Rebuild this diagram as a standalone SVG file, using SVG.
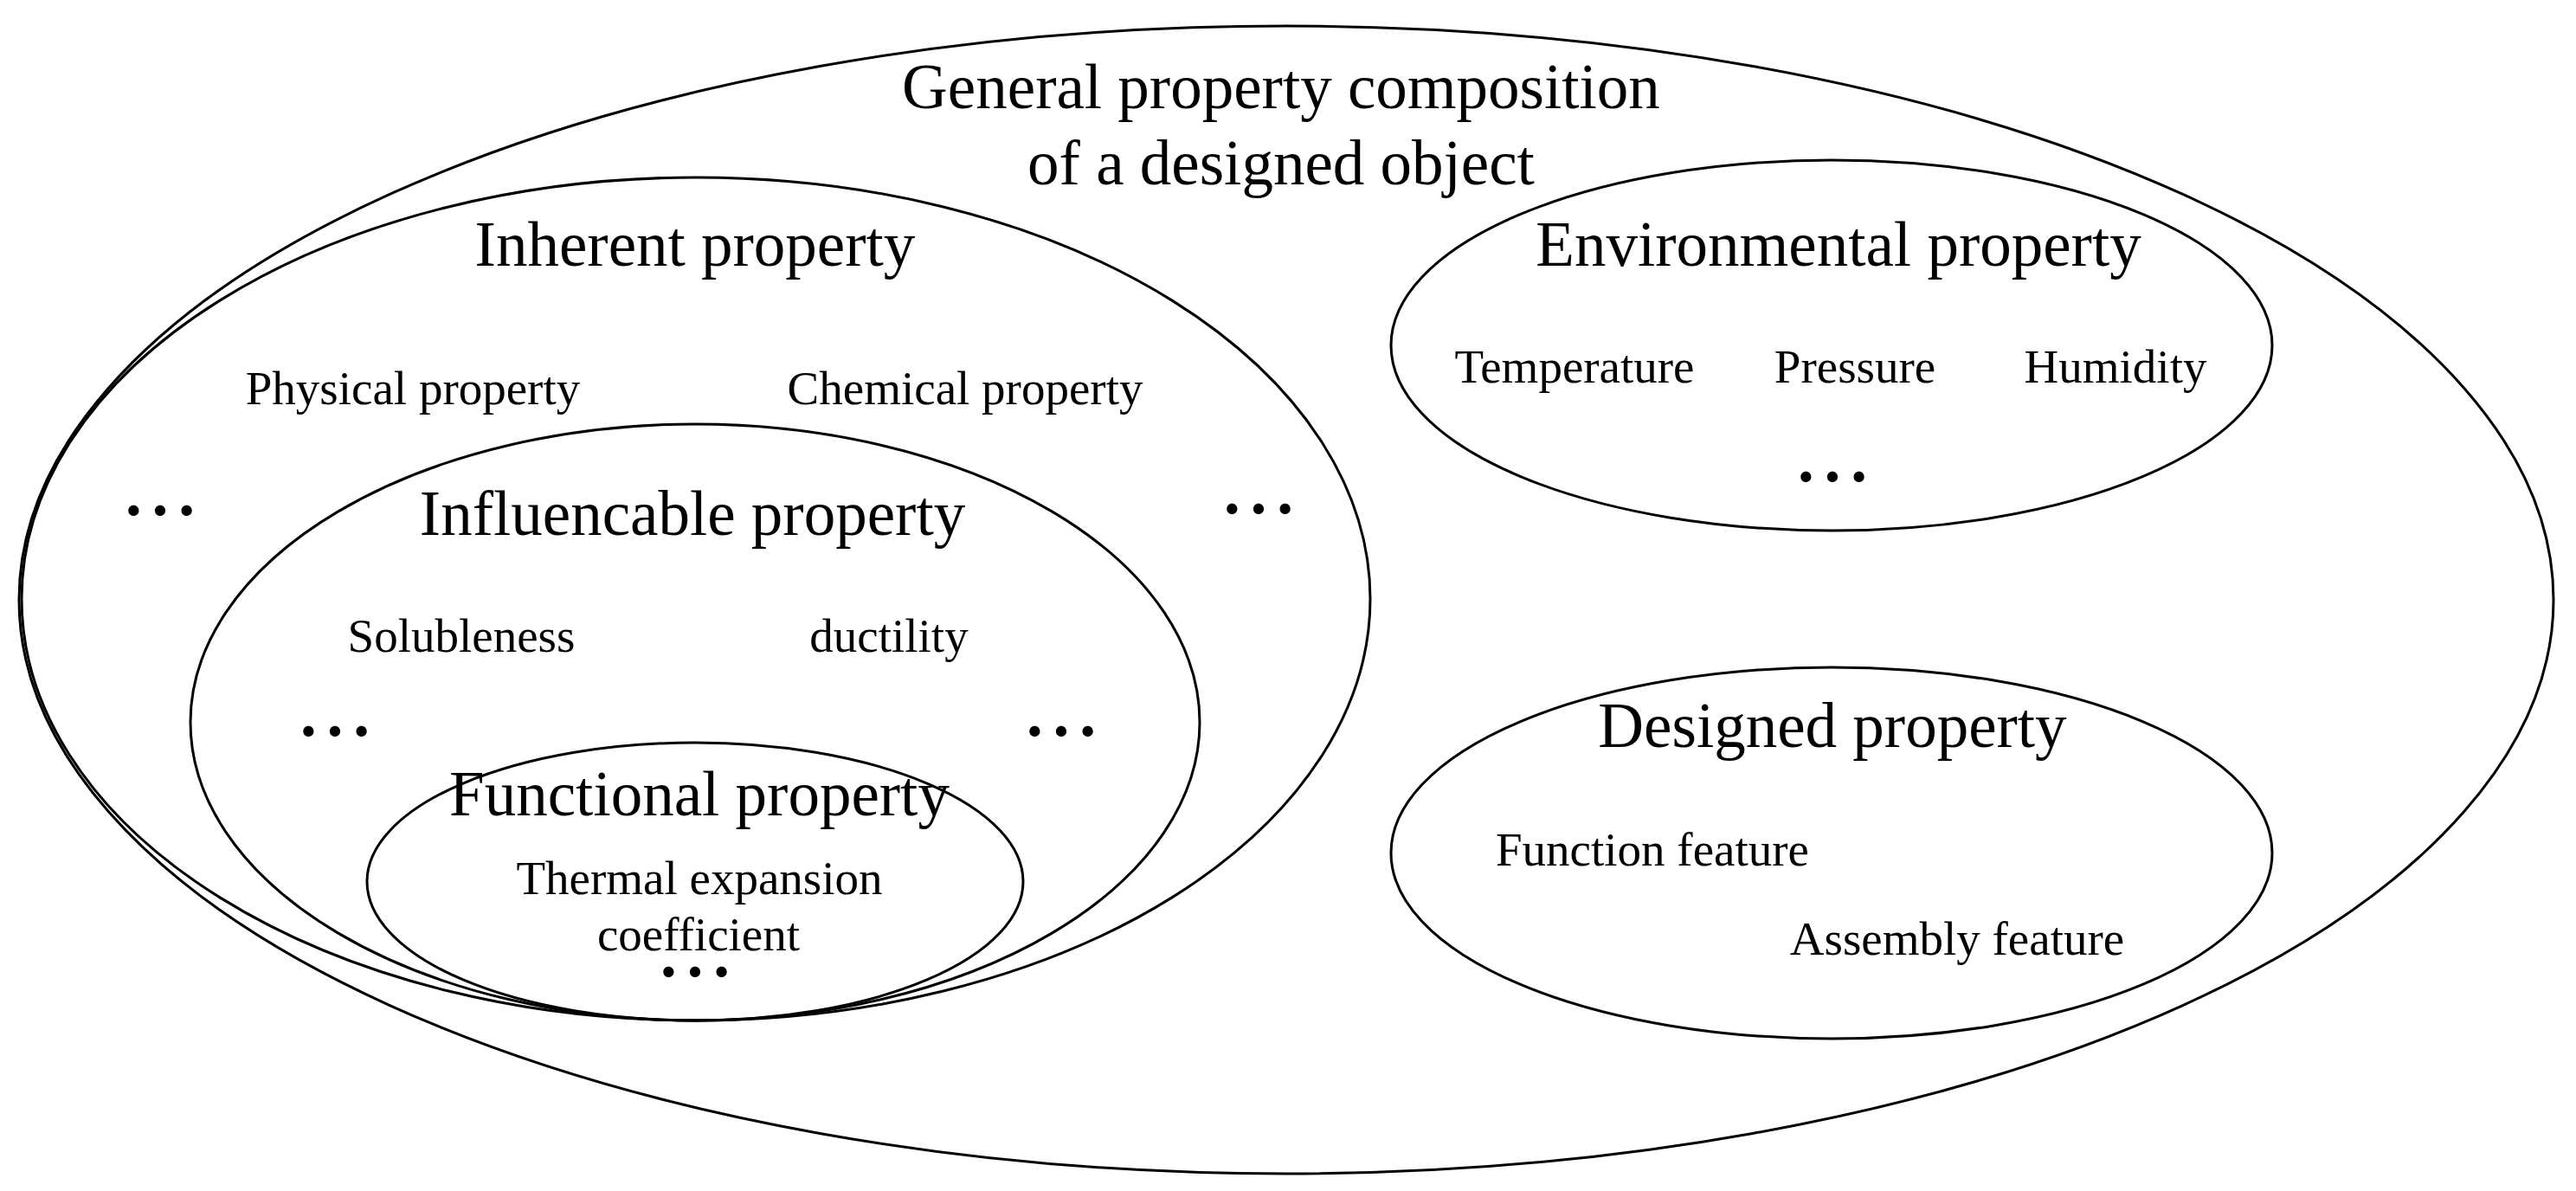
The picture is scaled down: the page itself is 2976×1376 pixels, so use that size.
<svg xmlns="http://www.w3.org/2000/svg" width="2976" height="1376" viewBox="0 0 2976 1376">
<style>
.e{fill:none;stroke:#000;stroke-width:3}
.h{font-family:"Liberation Serif","Times New Roman",serif;font-size:73px;fill:#000;text-anchor:middle}
.s{font-family:"Liberation Serif","Times New Roman",serif;font-size:55px;fill:#000;text-anchor:middle}
.d{font-family:"Noto Sans CJK SC",sans-serif;font-size:92px;fill:#000;text-anchor:middle}
</style>
<rect width="2976" height="1376" fill="#fff"/>
<g id="general">
<ellipse class="e" cx="1486" cy="693" rx="1464" ry="663"/>
<text class="h" x="1480" y="125">General property composition</text>
<text class="h" x="1480" y="213">of a designed object</text>
</g>
<g id="inherent">
<ellipse class="e" cx="804" cy="692" rx="779" ry="487"/>
<text class="h" x="803" y="307">Inherent property</text>
<text class="s" x="477" y="467">Physical property</text>
<text class="s" x="1115" y="467">Chemical property</text>
<text class="d" x="185" y="625">…</text>
<text class="d" x="1454" y="623">…</text>
</g>
<g id="influencable">
<ellipse class="e" cx="803" cy="834.5" rx="583" ry="344.5"/>
<text class="h" x="800" y="618">Influencable property</text>
<text class="s" x="533" y="753">Solubleness</text>
<text class="s" x="1027" y="753">ductility</text>
<text class="d" x="387" y="880">…</text>
<text class="d" x="1226" y="880">…</text>
</g>
<g id="functional">
<ellipse class="e" cx="803" cy="1018.5" rx="379" ry="160.5"/>
<text class="h" x="808" y="942">Functional property</text>
<text class="s" x="808" y="1033">Thermal expansion</text>
<text class="s" x="807" y="1098">coefficient</text>
<text class="d" x="803" y="1158">…</text>
</g>
<g id="environmental">
<ellipse class="e" cx="2116" cy="399" rx="509" ry="214"/>
<text class="h" x="2124" y="307">Environmental property</text>
<text class="s" x="1819" y="442">Temperature</text>
<text class="s" x="2143" y="442">Pressure</text>
<text class="s" x="2444" y="442">Humidity</text>
<text class="d" x="2117" y="586">…</text>
</g>
<g id="designed">
<ellipse class="e" cx="2116" cy="985.5" rx="509" ry="214.5"/>
<text class="h" x="2117" y="863">Designed property</text>
<text class="s" x="1909" y="1000">Function feature</text>
<text class="s" x="2261" y="1103">Assembly feature</text>
</g>
<g id="connectors"/>
</svg>
